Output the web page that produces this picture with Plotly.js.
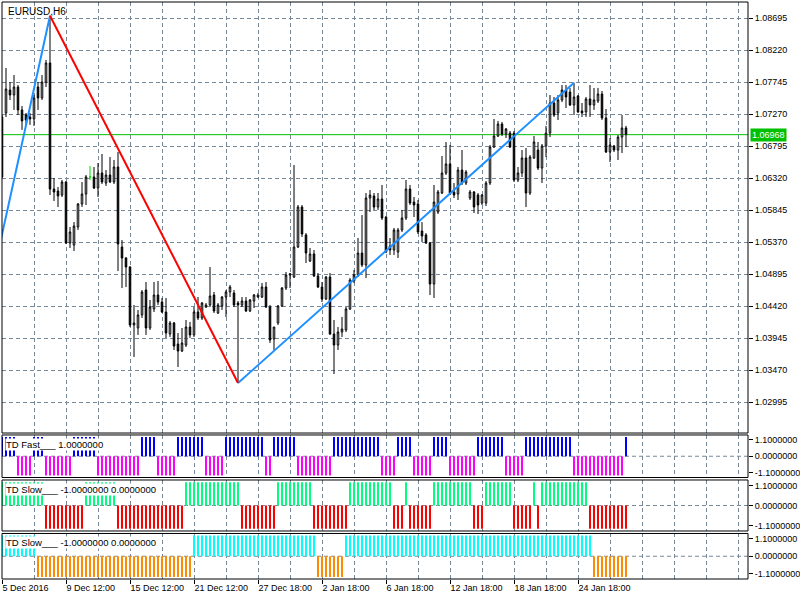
<!DOCTYPE html>
<html><head><meta charset="utf-8">
<script src="https://cdn.plot.ly/plotly-3.0.1.min.js"></script>
<style>html,body{margin:0;padding:0;background:#fff}#chart{width:800px;height:600px}</style>
</head><body><div id="chart"></div>
<script>
const symbolTitle = 'EURUSD,H6';
const open = [1.07231,1.07290,1.07631,1.07557,1.07675,1.07335,1.07260,1.07231,1.07201,1.07675,
1.07513,1.07749,1.08032,1.06161,1.06132,1.06072,1.06265,1.05360,1.05330,1.05597,
1.05939,1.06087,1.06340,1.06340,1.06176,1.06399,1.06250,1.06369,1.06265,1.06488,
1.05300,1.05137,1.05004,1.04143,1.04099,1.04292,1.04662,1.04099,1.04381,1.04588,
1.04484,1.04336,1.04009,1.04173,1.03861,1.03757,1.03846,1.04113,1.03995,1.04336,
1.04247,1.04410,1.04440,1.04588,1.04321,1.04425,1.04558,1.04633,1.04618,1.04469,
1.04440,1.04499,1.04351,1.04499,1.04558,1.04558,1.04707,1.04410,1.03935,1.04173,
1.04425,1.04692,1.04885,1.04855,1.05300,1.05894,1.05479,1.05093,1.05197,1.04870,
1.04707,1.04529,1.04855,1.04009,1.03846,1.04039,1.04069,1.04381,1.04796,1.04885,
1.05211,1.05034,1.06028,1.06058,1.05894,1.06013,1.05746,1.05315,1.05256,1.05226,
1.05553,1.05731,1.06161,1.05968,1.05939,1.05538,1.05479,1.05360,1.04751,1.05820,
1.06102,1.06399,1.06533,1.06117,1.06087,1.06443,1.06250,1.06028,1.06117,1.06072,
1.05953,1.05953,1.06250,1.06785,1.06948,1.07126,1.06978,1.06993,1.06993,1.06295,
1.06399,1.06622,1.06102,1.06622,1.06740,1.06473,1.06800,1.06993,1.07438,1.07290,
1.07483,1.07631,1.07601,1.07408,1.07542,1.07320,1.07305,1.07498,1.07408,1.07468,
1.07572,1.07216,1.06711,1.06800,1.06740,1.06933,1.07067];
const high = [1.07260,1.07958,1.07749,1.07854,1.07705,1.07394,1.07290,1.07290,1.07557,1.07749,
1.07854,1.08076,1.08734,1.06325,1.06191,1.06295,1.06280,1.05597,1.05671,1.05953,
1.06265,1.06369,1.06503,1.06488,1.06547,1.06681,1.06443,1.06636,1.06592,1.06711,
1.05404,1.05152,1.05019,1.04440,1.04366,1.04662,1.04781,1.04514,1.04781,1.04796,
1.04544,1.04544,1.04202,1.04188,1.04024,1.04099,1.04217,1.04188,1.04410,1.04558,
1.04484,1.04469,1.05004,1.04633,1.04469,1.04573,1.04662,1.04737,1.04662,1.04499,
1.04558,1.04558,1.04529,1.04603,1.04618,1.04766,1.04781,1.04440,1.04113,1.04440,
1.04707,1.04929,1.04915,1.06518,1.05924,1.05924,1.05508,1.05286,1.05256,1.04915,
1.04781,1.04870,1.04915,1.04217,1.04113,1.04262,1.04410,1.04840,1.04959,1.05434,
1.05775,1.06102,1.06147,1.06102,1.06102,1.06221,1.05760,1.05434,1.05583,1.05583,
1.05850,1.06295,1.06221,1.06043,1.05998,1.05671,1.05508,1.05375,1.06221,1.06147,
1.06651,1.06859,1.06815,1.06250,1.06488,1.06740,1.06443,1.06147,1.06132,1.06102,
1.06087,1.06280,1.06815,1.07201,1.07172,1.07157,1.07067,1.07023,1.07023,1.06488,
1.06740,1.06770,1.06666,1.06948,1.06859,1.06830,1.07098,1.07557,1.07527,1.07557,
1.07705,1.07705,1.07661,1.07739,1.07557,1.07438,1.07527,1.07705,1.07661,1.07661,
1.07616,1.07349,1.06918,1.06815,1.06963,1.07260,1.07098];
const low = [1.06325,1.07231,1.07483,1.07335,1.07260,1.07039,1.07098,1.07113,1.07098,1.07335,
1.07483,1.07675,1.06072,1.05983,1.05894,1.06043,1.05345,1.05286,1.05241,1.05553,
1.05894,1.05924,1.06295,1.06161,1.06043,1.06236,1.06206,1.06250,1.06236,1.04944,
1.04692,1.04707,1.04113,1.03668,1.03995,1.04247,1.03995,1.04069,1.04336,1.04440,
1.04321,1.03950,1.03965,1.03772,1.03519,1.03742,1.03816,1.03950,1.03965,1.04217,
1.04217,1.04395,1.04410,1.04321,1.04306,1.04366,1.04262,1.04558,1.04410,1.03281,
1.04410,1.04336,1.04336,1.04395,1.04544,1.04544,1.04395,1.03876,1.03772,1.04143,
1.04410,1.04662,1.04692,1.04840,1.05286,1.05449,1.05063,1.05078,1.04855,1.04692,
1.04484,1.04514,1.03995,1.03415,1.03772,1.03965,1.04039,1.04366,1.04766,1.04855,
1.05004,1.04840,1.05820,1.05850,1.05850,1.05701,1.05211,1.05182,1.05182,1.05137,
1.05523,1.05701,1.05924,1.05746,1.05494,1.05375,1.05345,1.04588,1.04544,1.05790,
1.06087,1.06369,1.06072,1.06028,1.05998,1.06221,1.06221,1.05998,1.05805,1.05790,
1.05924,1.05909,1.06221,1.06770,1.06933,1.06948,1.06918,1.06770,1.06265,1.06265,
1.06340,1.05894,1.06072,1.06607,1.06443,1.06250,1.06636,1.06933,1.07231,1.07186,
1.07453,1.07364,1.07394,1.07260,1.07290,1.07231,1.07231,1.07231,1.07335,1.07438,
1.07186,1.06696,1.06562,1.06711,1.06592,1.06696,1.06785];
const close = [1.06340,1.07646,1.07557,1.07675,1.07335,1.07172,1.07186,1.07201,1.07513,1.07513,
1.07749,1.08032,1.06161,1.06117,1.06058,1.06265,1.05360,1.05523,1.05612,1.05939,
1.06087,1.06340,1.06340,1.06176,1.06399,1.06265,1.06369,1.06265,1.06488,1.05345,
1.05137,1.05004,1.04143,1.04173,1.04292,1.04633,1.04099,1.04410,1.04588,1.04484,
1.04336,1.04024,1.04173,1.03831,1.03757,1.03876,1.04113,1.03995,1.04336,1.04247,
1.04469,1.04440,1.04573,1.04351,1.04440,1.04558,1.04633,1.04707,1.04440,1.04440,
1.04499,1.04351,1.04514,1.04588,1.04588,1.04707,1.04410,1.03920,1.04113,1.04425,
1.04692,1.04885,1.04900,1.05300,1.05894,1.05494,1.05211,1.05197,1.04870,1.04707,
1.04529,1.04855,1.04009,1.03846,1.04039,1.04084,1.04381,1.04811,1.04885,1.05211,
1.05034,1.06028,1.06072,1.05894,1.06013,1.05731,1.05226,1.05256,1.05553,1.05553,
1.05731,1.06161,1.05953,1.05924,1.05523,1.05464,1.05360,1.04751,1.05968,1.06117,
1.06399,1.06533,1.06102,1.06072,1.06443,1.06250,1.06414,1.06117,1.05894,1.05924,
1.06072,1.06250,1.06785,1.06948,1.07126,1.06978,1.07052,1.06785,1.06295,1.06399,
1.06622,1.06102,1.06636,1.06859,1.06473,1.06800,1.06993,1.07438,1.07260,1.07483,
1.07631,1.07527,1.07408,1.07527,1.07305,1.07290,1.07498,1.07408,1.07483,1.07572,
1.07216,1.06711,1.06815,1.06740,1.06933,1.07067,1.06968];

const priceTicks = [1.08695,1.08220,1.07745,1.07270,1.06795,1.06320,1.05845,1.05370,1.04895,1.04420,1.03945,1.03470,1.02995];
const dateLabels = ['5 Dec 2016','9 Dec 12:00','15 Dec 12:00','21 Dec 12:00','27 Dec 18:00','2 Jan 18:00','6 Jan 18:00','12 Jan 18:00','18 Jan 18:00','24 Jan 18:00'];
const dateLabelBars = [0,16,32,48,64,80,96,112,128,144];

const zigzagBars = [-5,12,59,143];
const zigzagPrices = [1.04132,1.08734,1.03281,1.07739];
const lastPrice = 1.06968;

const tdFast = [1,1,1,1,-1,-1,-1,-1,1,1,1,-1,-1,-1,-1,-1,-1,-1,1,1,
1,1,1,1,-1,-1,-1,-1,-1,-1,-1,-1,-1,-1,-1,1,1,1,1,-1,
-1,-1,-1,-1,1,1,1,1,1,1,1,-1,-1,-1,-1,-1,1,1,1,1,
1,1,1,1,1,1,-1,-1,1,1,1,1,1,1,-1,-1,-1,-1,-1,-1,
-1,-1,-1,1,1,1,1,1,1,1,1,1,1,1,1,-1,-1,-1,-1,1,
1,1,1,-1,-1,-1,-1,-1,1,1,1,1,-1,-1,-1,-1,-1,-1,-1,1,
1,1,1,1,1,1,-1,-1,-1,-1,-1,1,1,1,1,1,1,1,1,1,
1,1,1,-1,-1,-1,-1,-1,-1,-1,-1,-1,-1,-1,-1,-1,1];
const tdSlow1 = [1,1,1,1,1,1,1,1,1,1,1,-1,-1,-1,-1,-1,-1,-1,-1,-1,
-1,1,1,1,1,1,1,1,1,-1,-1,-1,-1,-1,-1,-1,-1,-1,-1,-1,
-1,-1,-1,-1,-1,-1,1,1,1,1,1,1,1,1,1,1,1,1,1,1,
-1,-1,-1,-1,-1,-1,-1,-1,-1,1,1,1,1,1,1,1,1,1,-1,-1,
-1,-1,-1,-1,-1,-1,-1,1,1,1,1,1,1,1,1,1,1,1,-1,-1,
-1,1,-1,-1,-1,-1,-1,-1,1,1,1,1,1,1,1,1,1,1,-1,-1,
-1,1,1,1,1,1,1,1,-1,-1,-1,-1,-1,1,-1,1,1,1,1,1,
1,1,1,1,1,1,1,-1,-1,-1,-1,-1,-1,-1,-1,-1,-1];
const tdSlow2 = [1,1,1,1,1,1,1,1,1,-1,-1,-1,-1,-1,-1,-1,-1,-1,-1,-1,
-1,-1,-1,-1,-1,-1,-1,-1,-1,-1,-1,-1,-1,-1,-1,-1,-1,-1,-1,-1,
-1,-1,-1,-1,-1,-1,-1,-1,1,1,1,1,1,1,1,1,1,1,1,1,
1,1,1,1,1,1,1,1,1,1,1,1,1,1,1,1,1,1,1,-1,
-1,-1,-1,-1,-1,-1,1,1,1,1,1,1,1,1,1,1,1,1,1,1,
1,1,1,1,1,1,1,1,1,1,1,1,1,1,1,1,1,1,1,1,
1,1,1,1,1,1,1,1,1,1,1,1,1,1,1,1,1,1,1,1,
1,1,1,1,1,1,1,1,-1,-1,-1,-1,-1,-1,-1,-1,-1];
const paneLabels = ['TD Fast___ 1.0000000','TD Slow___ -1.0000000 0.0000000','TD Slow___ -1.0000000 0.0000000'];
const indicatorTickText = ['1.1000000','0.0000000','-1.1000000'];
const indicatorTickValues = [1.1, 0, -1.1];

// ---------- build ----------
const bars = open.map((_, i) => i);
const isDoji = i => open[i] === close[i];
const nd = bars.filter(i => !isDoji(i));
const dj = bars.filter(i => isDoji(i));
const pick = (arr, idx) => idx.map(i => arr[i]);

const fontFam = 'Liberation Sans, Arial, sans-serif';
const gridColor = '#778899';
const gridDash = '4px,3px';
const fs = 9;

const traces = [];
traces.push({
  type: 'candlestick', xaxis: 'x', yaxis: 'y',
  x: nd, open: pick(open, nd), high: pick(high, nd), low: pick(low, nd), close: pick(close, nd),
  increasing: {line: {color: '#000', width: 1}, fillcolor: '#ffffff'},
  decreasing: {line: {color: '#000', width: 1}, fillcolor: '#000000'},
  whiskerwidth: 0, hoverinfo: 'skip'
});
traces.push({
  type: 'candlestick', xaxis: 'x', yaxis: 'y',
  x: dj, open: pick(open, dj), high: pick(high, dj), low: pick(low, dj), close: pick(close, dj),
  increasing: {line: {color: '#00E000', width: 1}, fillcolor: '#00E000'},
  decreasing: {line: {color: '#00E000', width: 1}, fillcolor: '#00E000'},
  whiskerwidth: 0, hoverinfo: 'skip'
});
// zigzag: up legs blue, down legs red
const upX = [], upY = [], dnX = [], dnY = [];
for (let s = 0; s < zigzagBars.length - 1; s++) {
  const goingUp = zigzagPrices[s + 1] > zigzagPrices[s];
  const X = goingUp ? upX : dnX, Y = goingUp ? upY : dnY;
  if (X.length) { X.push(null); Y.push(null); }
  X.push(zigzagBars[s], zigzagBars[s + 1]);
  Y.push(zigzagPrices[s], zigzagPrices[s + 1]);
}
traces.push({type: 'scatter', mode: 'lines', x: upX, y: upY, xaxis: 'x', yaxis: 'y',
  line: {color: '#1E90FF', width: 2}, hoverinfo: 'skip', connectgaps: false});
traces.push({type: 'scatter', mode: 'lines', x: dnX, y: dnY, xaxis: 'x', yaxis: 'y',
  line: {color: '#FF0000', width: 2}, hoverinfo: 'skip', connectgaps: false});

const indicators = [
  {data: tdFast, axis: 'y2', up: '#0000FF', down: '#FF00FF'},
  {data: tdSlow1, axis: 'y3', up: '#00FF7F', down: '#FF0000'},
  {data: tdSlow2, axis: 'y4', up: '#00FFFF', down: '#FF8C00'}
];
indicators.forEach(ind => {
  traces.push({type: 'bar', x: bars, y: ind.data.map(v => v > 0 ? v : null), xaxis: 'x', yaxis: ind.axis,
    width: 0.5, marker: {color: ind.up, line: {width: 0}}, hoverinfo: 'skip'});
  traces.push({type: 'bar', x: bars, y: ind.data.map(v => v < 0 ? v : null), xaxis: 'x', yaxis: ind.axis,
    width: 0.5, marker: {color: ind.down, line: {width: 0}}, hoverinfo: 'skip'});
});

const tickFont = {family: fontFam, size: fs, color: '#000'};
const labelFrac = 0.78;
function indAxis(domain) {
  return {
    domain: domain, range: [-1.1, 1.1], side: 'right', anchor: 'x',
    tickmode: 'array', tickvals: indicatorTickValues.map(v => v * labelFrac), ticktext: indicatorTickText,
    ticks: 'outside', ticklen: 4, tickcolor: '#000', tickfont: tickFont,
    showgrid: false, zeroline: false, showline: false, fixedrange: true
  };
}

const layout = {
  width: 800, height: 600,
  margin: {l: 2, r: 52, t: 2, b: 21, pad: 0},
  paper_bgcolor: '#ffffff', plot_bgcolor: '#ffffff',
  showlegend: false, hovermode: false, dragmode: false,
  font: {family: fontFam, size: fs, color: '#000'},
  boxgap: 0.45, barmode: 'overlay',
  xaxis: {
    range: [0, 186.5], anchor: 'y4', fixedrange: true,
    tickmode: 'array', tickvals: dateLabelBars, ticktext: dateLabels,
    ticks: 'outside', ticklen: 4, tickcolor: '#000', tickfont: tickFont,
    tickangle: 0, ticklabelposition: 'outside right', ticklabeloverflow: 'allow',
    showgrid: true, gridcolor: gridColor, griddash: gridDash, gridwidth: 1,
    minor: {tick0: 0, dtick: 8, showgrid: true, gridcolor: gridColor, griddash: gridDash, gridwidth: 1, ticks: ''},
    zeroline: false, showline: false,
    rangeslider: {visible: false}
  },
  yaxis: {
    domain: [0.2530, 1], range: [1.025395, 1.089373], side: 'right', anchor: 'x',
    tickmode: 'array', tickvals: priceTicks, ticktext: priceTicks.map(v => v.toFixed(5)),
    ticks: 'outside', ticklen: 4, tickcolor: '#000', tickfont: tickFont,
    showgrid: true, gridcolor: gridColor, griddash: gridDash, gridwidth: 1,
    zeroline: false, showline: false, fixedrange: true
  },
  yaxis2: indAxis([0.1759, 0.2496]),
  yaxis3: indAxis([0.0832, 0.1716]),
  yaxis4: indAxis([0, 0.0789]),
  shapes: [],
  annotations: []
};

// pane borders
['y', 'y2', 'y3', 'y4'].forEach(a => {
  layout.shapes.push({type: 'rect', xref: 'paper', x0: 0, x1: 1, yref: a + ' domain', y0: 0, y1: 1,
    line: {color: '#000', width: 1}, fillcolor: 'rgba(0,0,0,0)', layer: 'above'});
});
// zero lines of indicator panes
['y2', 'y3', 'y4'].forEach(a => {
  layout.shapes.push({type: 'line', xref: 'paper', x0: 0, x1: 1, yref: a, y0: 0, y1: 0,
    line: {color: gridColor, width: 1, dash: gridDash}, layer: 'below'});
});
// last price line
layout.shapes.push({type: 'line', xref: 'paper', x0: 0, x1: 1, yref: 'y', y0: lastPrice, y1: lastPrice,
  line: {color: '#00C000', width: 1}, layer: 'below'});

layout.annotations.push({xref: 'paper', yref: 'y', x: 1, y: lastPrice, xanchor: 'left', yanchor: 'middle',
  xshift: 2, text: lastPrice.toFixed(5), showarrow: false, bgcolor: '#00C000', borderpad: 1,
  font: {family: fontFam, size: fs, color: '#ffffff'}});
layout.annotations.push({xref: 'paper', yref: 'paper', x: 0, y: 1, xanchor: 'left', yanchor: 'top',
  xshift: 4, yshift: -2, text: symbolTitle, showarrow: false,
  font: {family: fontFam, size: 10, color: '#000'}});
['y2', 'y3', 'y4'].forEach((a, i) => {
  layout.annotations.push({xref: 'paper', yref: a + ' domain', x: 0, y: 1, xanchor: 'left', yanchor: 'top',
    xshift: 3, yshift: -3, text: paneLabels[i], showarrow: false, bgcolor: '#ffffff', borderpad: 0,
    font: {family: fontFam, size: 9.5, color: '#000'}});
});

Plotly.newPlot('chart', traces, layout, {staticPlot: true, displayModeBar: false});
</script>
</body></html>
